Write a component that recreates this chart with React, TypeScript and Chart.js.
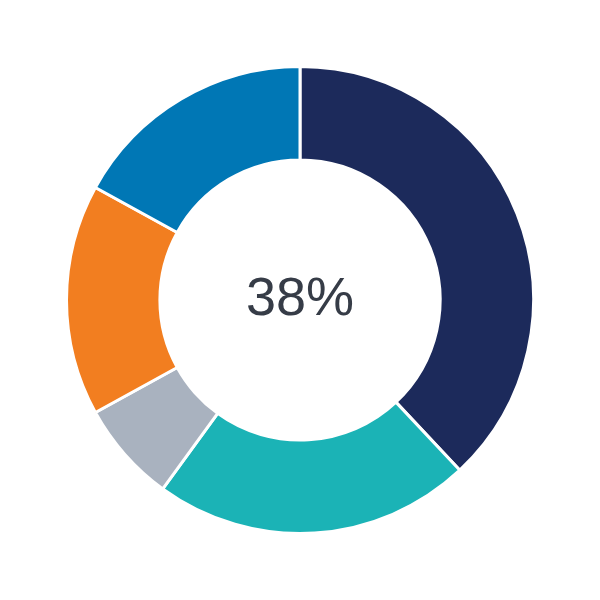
import { useEffect, useRef } from "react";
import Chart from "chart.js/auto";

const labels = ["Segment A", "Segment B", "Segment C", "Segment D", "Segment E"];
const values = [38, 22, 7, 16, 17];
const colors = ["#1c2a5b", "#1bb3b6", "#a9b2bf", "#f27e20", "#0077b5"];
const centerLabel = "38%";

export default function App() {
  const canvasRef = useRef<HTMLCanvasElement>(null);

  useEffect(() => {
    if (!canvasRef.current) return;
    const chart = new Chart(canvasRef.current, {
      type: "doughnut",
      data: {
        labels,
        datasets: [
          {
            data: values,
            backgroundColor: colors,
            borderColor: "#ffffff",
            borderWidth: 3,
          },
        ],
      },
      options: {
        responsive: false,
        animation: false,
        cutout: "60%",
        layout: { padding: 65 },
        plugins: {
          legend: { display: false },
          tooltip: { enabled: false },
        },
      },
    });
    return () => chart.destroy();
  }, []);

  return (
    <div style={{ position: "fixed", left: 0, top: 0, width: 600, height: 600, background: "#fff" }}>
      <canvas ref={canvasRef} width={600} height={600} style={{ width: 600, height: 600 }} />
      <div
        style={{
          position: "absolute",
          left: 0,
          top: -4,
          width: 600,
          height: 600,
          display: "flex",
          alignItems: "center",
          justifyContent: "center",
          fontFamily: "'Liberation Sans', Arial, sans-serif",
          fontSize: 54,
          color: "#363c47",
          pointerEvents: "none",
        }}
      >
        {centerLabel}
      </div>
    </div>
  );
}
